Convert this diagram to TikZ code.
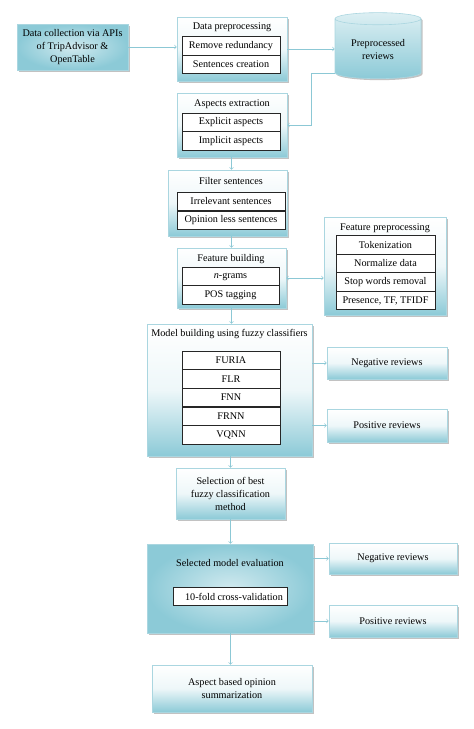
\documentclass[tikz,border=0pt]{standalone}
\usepackage{fontspec}
\setmainfont{Liberation Serif}
\usetikzlibrary{arrows,shadows,shapes.geometric}

\definecolor{panelblue}{RGB}{140,202,215}
\definecolor{edgeblue}{RGB}{170,214,224}
\definecolor{flowblue}{RGB}{140,200,213}

\begin{document}
\begin{tikzpicture}[x=1pt, y=-1pt,
  font=\fontsize{10.2}{13}\selectfont,
  panel/.style={rectangle, draw=edgeblue, line width=0.6pt, align=center,
    top color=white, bottom color=panelblue, middle color=white!85!panelblue,
    drop shadow={shadow xshift=1.5pt, shadow yshift=-1.5pt, fill=black!40, opacity=0.6}},
  darkpanel/.style={panel, shading=radial, inner color=white!60!panelblue, outer color=panelblue},
  store/.style={cylinder, shape border rotate=90, aspect=0.2, draw=edgeblue, line width=0.6pt,
    align=center, minimum width=86pt, minimum height=66pt,
    top color=white!70!panelblue, bottom color=panelblue,
    drop shadow={shadow xshift=1.5pt, shadow yshift=-1.5pt, fill=black!40, opacity=0.6}},
  cell/.style={rectangle, draw=black!85, line width=0.9pt, fill=white, minimum height=18.5pt, inner sep=1pt},
  title/.style={inner sep=0pt},
  flow/.style={color=flowblue, line width=0.7pt, >=to}]
  \useasboundingbox (0,0) rectangle (474,729);

  \node[darkpanel, minimum width=111pt, minimum height=46pt] (dc) at (72.5,47)
    {Data collection via APIs\\of TripAdvisor \&\\OpenTable};

  \node[panel, minimum width=110pt, minimum height=64pt] (dp) at (232,49) {};
  \node[title] (dptitle) at (232,27) {Data preprocessing};
  \node[cell, minimum width=98pt] (dp-1) at (231,46) {Remove redundancy};
  \node[cell, minimum width=98pt] (dp-2) at (231,64.5) {Sentences creation};

  \node[store] (prep) at (378,50) {Preprocessed\\reviews};

  \node[panel, minimum width=110pt, minimum height=64pt] (ae) at (232,125) {};
  \node[title] (aetitle) at (232,104) {Aspects extraction};
  \node[cell, minimum width=98pt] (ae-1) at (231,122.5) {Explicit aspects};
  \node[cell, minimum width=98pt] (ae-2) at (231,141) {Implicit aspects};

  \node[panel, minimum width=119pt, minimum height=66pt] (fs) at (227.5,203) {};
  \node[title] (fstitle) at (231,181) {Filter sentences};
  \node[cell, minimum width=108pt] (fs-1) at (231,201.5) {Irrelevant sentences};
  \node[cell, minimum width=108pt] (fs-2) at (231,220.5) {Opinion less sentences};

  \node[panel, minimum width=109pt, minimum height=60pt] (fb) at (231.5,278) {};
  \node[title] (fbtitle) at (231,259) {Feature building};
  \node[cell, minimum width=97pt] (fb-1) at (230.5,276.5) {\textit{n}-grams};
  \node[cell, minimum width=97pt] (fb-2) at (230.5,295) {POS tagging};

  \node[panel, minimum width=122pt, minimum height=98pt] (fp) at (385,266) {};
  \node[title] (fptitle) at (385,228) {Feature preprocessing};
  \node[cell, minimum width=99pt] (fp-1) at (385.5,245) {Tokenization};
  \node[cell, minimum width=99pt] (fp-2) at (385.5,263.5) {Normalize data};
  \node[cell, minimum width=99pt] (fp-3) at (385.5,282) {Stop words removal};
  \node[cell, minimum width=99pt] (fp-4) at (385.5,300.5) {Presence, TF, TFIDF};

  \node[panel, minimum width=165pt, minimum height=132pt] (mb) at (229.5,390) {};
  \node[title] (mbtitle) at (229.5,334) {Model building using fuzzy classifiers};
  \node[cell, minimum width=98pt] (mb-1) at (231,360.5) {FURIA};
  \node[cell, minimum width=98pt] (mb-2) at (231,379) {FLR};
  \node[cell, minimum width=98pt] (mb-3) at (231,397.5) {FNN};
  \node[cell, minimum width=98pt] (mb-4) at (231,416.5) {FRNN};
  \node[cell, minimum width=98pt] (mb-5) at (231,435) {VQNN};

  \node[panel, minimum width=120pt, minimum height=32pt] (neg1) at (387,363) {Negative reviews};
  \node[panel, minimum width=120pt, minimum height=33pt] (pos1) at (387,425.5) {Positive reviews};

  \node[panel, minimum width=109pt, minimum height=51pt] (sel) at (230.5,493.5)
    {Selection of best\\fuzzy classification\\method};

  \node[darkpanel, minimum width=166pt, minimum height=89pt] (sme) at (230,588.5) {};
  \node[title] (smetitle) at (230,563) {Selected model evaluation};
  \node[cell, minimum width=114pt] (sme-1) at (230,596.5) {\hspace{8pt}10-fold cross-validation};

  \node[panel, minimum width=128pt, minimum height=31pt] (neg2) at (393,558.5) {Negative reviews};
  \node[panel, minimum width=128pt, minimum height=32pt] (pos2) at (393,621) {Positive reviews};

  \node[panel, minimum width=160pt, minimum height=47pt] (sum) at (232,688.5)
    {Aspect based opinion\\summarization};

  \path[flow, ->]
  (dc.east) edge (dc.east -| dp.west)
  (dp.east) edge (dp.east -| prep.west)
  ([yshift=-23pt]prep.west) edge[to path={-- ++(-23,0) |- (\tikztotarget)}] (ae.east)
  (ae.south -| fb.north) edge (fs.north -| fb.north)
  (fs.south -| fb.north) edge (fb.north)
  (fb.south) edge (fb.south |- mb.north)
  (mb.east |- neg1) edge (neg1.west)
  (mb.east |- pos1) edge (pos1.west)
  (mb.south -| sel.north) edge (sel.north)
  (sel.south) edge (sel.south |- sme.north)
  (sme.east |- neg2) edge (neg2.west)
  (sme.east |- pos2) edge (pos2.west)
  (sme.south -| sel.south) edge (sum.north -| sel.south);
  \path[flow, <->]
  (fb.east) edge (fb.east -| fp.west);
\end{tikzpicture}
\end{document}
